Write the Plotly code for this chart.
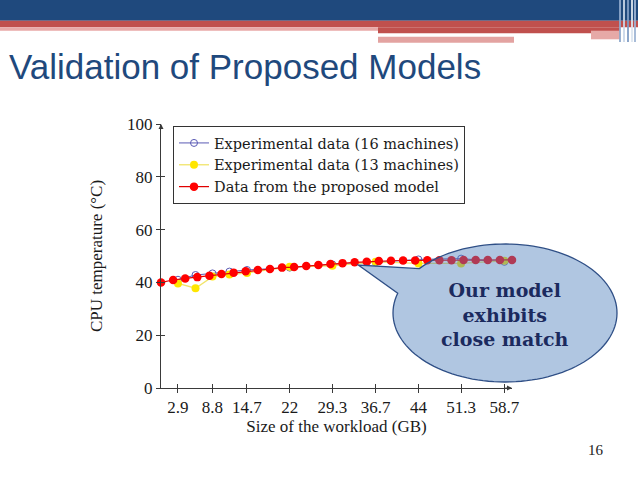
import math
import plotly.graph_objects as go

# ---------------- data ----------------
x_model = [0, 2.07, 4.14, 6.21, 8.28, 10.34, 12.41, 14.48, 16.55, 18.62,
           20.69, 22.76, 24.83, 26.9, 28.97, 31.03, 33.1, 35.17, 37.24, 39.31,
           41.38, 43.45, 45.52, 47.59, 49.66, 51.72, 53.79, 55.86, 57.93, 60.0]
y_model = [40.0, 40.9, 41.5, 42.0, 42.5, 43.2, 43.7, 44.2, 44.7, 45.1,
           45.6, 45.8, 46.2, 46.6, 47.0, 47.3, 47.6, 47.8, 48.1, 48.2,
           48.3, 48.3, 48.4, 48.4, 48.4, 48.5, 48.5, 48.5, 48.5, 48.5]
x_exp = [2.9, 5.9, 8.8, 11.7, 14.7, 22, 29.3, 36.7, 44, 51.3, 58.7]
y_exp16 = [41.0, 42.8, 43.4, 44.1, 44.7, 45.6, 46.8, 47.6, 48.7, 49.0, 47.8]
y_exp13 = [39.6, 37.8, 42.2, 43.0, 43.6, 45.9, 46.3, 47.8, 47.2, 47.2, 48.2]
x_tick_vals = [2.9, 8.8, 14.7, 22, 29.3, 36.7, 44, 51.3, 58.7]
x_tick_text = ["2.9", "8.8", "14.7", "22", "29.3", "36.7", "44", "51.3", "58.7"]
y_tick_vals = [0, 20, 40, 60, 80, 100]
y_tick_text = ["0", "20", "40", "60", "80", "100"]

# ---------------- layout geometry ----------------
W, H = 638, 478
L, R, T, B = 161, 126, 124, 90
PW, PH = W - L - R, H - T - B


def px(x):
    return (x - L) / PW


def py(y):
    return (H - B - y) / PH


SERIF = "Liberation Serif, Times New Roman, serif"
AX = "#3a3a3a"
TXT = "#1a1a1a"

fig = go.Figure()
fig.add_trace(go.Scatter(
    x=x_exp, y=y_exp16, mode="lines+markers",
    name="Experimental data (16 machines)",
    line=dict(color="#5a5ab4", width=1),
    marker=dict(symbol="circle-open", size=7, color="#5a5ab4", line=dict(width=1)),
    cliponaxis=False))
fig.add_trace(go.Scatter(
    x=x_exp, y=y_exp13, mode="lines+markers",
    name="Experimental data (13 machines)",
    line=dict(color="#f1e46a", width=1.3),
    marker=dict(symbol="circle", size=8, color="#ffe600", line=dict(width=0)),
    cliponaxis=False))
fig.add_trace(go.Scatter(
    x=x_model, y=y_model, mode="lines+markers",
    name="Data from the proposed model",
    line=dict(color="#e00000", width=1.2),
    marker=dict(symbol="circle", size=8.5, color="#ff0000", line=dict(width=0)),
    cliponaxis=False))
# empty trace to create the overlay axes carrying the inner tick marks
fig.add_trace(go.Scatter(x=[], y=[], xaxis="x2", yaxis="y2", showlegend=False,
                         hoverinfo="skip"))

axis_common = dict(showgrid=False, zeroline=False, fixedrange=True)
fig.update_layout(
    width=W, height=H,
    margin=dict(l=L, r=R, t=T, b=B),
    paper_bgcolor="white", plot_bgcolor="white",
    showlegend=True,
    legend=dict(x=px(173), y=py(126), xanchor="left", yanchor="top",
                bgcolor="white", bordercolor="#333333", borderwidth=1,
                font=dict(family="DejaVu Serif, serif", size=14.5, color=TXT),
                itemwidth=30, tracegroupgap=0),
    xaxis=dict(range=[0, 60], tickvals=x_tick_vals, ticktext=x_tick_text,
               ticks="outside", ticklen=4, tickcolor=AX, showline=True,
               linecolor=AX, linewidth=1,
               tickfont=dict(family=SERIF, size=17, color=TXT),
               title=dict(text="Size of the workload (GB)", standoff=0,
                          font=dict(family=SERIF, size=17, color=TXT)),
               **axis_common),
    yaxis=dict(range=[0, 100], tickvals=y_tick_vals, ticktext=y_tick_text,
               ticks="outside", ticklen=4, tickcolor=AX, showline=True,
               linecolor=AX, linewidth=1,
               tickfont=dict(family=SERIF, size=17, color=TXT),
               title=dict(text="CPU temperature (°C)", standoff=20,
                          font=dict(family=SERIF, size=17, color=TXT)),
               **axis_common),
    xaxis2=dict(overlaying="x", matches="x", anchor="y", range=[0, 60],
                tickvals=x_tick_vals, ticks="inside", ticklen=4, tickcolor=AX,
                showticklabels=False, showline=False, **axis_common),
    yaxis2=dict(overlaying="y", matches="y", anchor="x", range=[0, 100],
                tickvals=y_tick_vals, ticks="inside", ticklen=4, tickcolor=AX,
                showticklabels=False, showline=False, **axis_common),
)

shapes = []


def rect(x0, y0, x1, y1, color, opacity=1.0):
    shapes.append(dict(type="rect", xref="paper", yref="paper",
                       x0=px(x0), x1=px(x1), y0=py(y1), y1=py(y0),
                       fillcolor=color, line=dict(width=0), opacity=opacity,
                       layer="below"))


# slide header bands
rect(0, 0, 638, 20.7, "#1f497d")
rect(0, 20.7, 638, 27.3, "#c0504d")
rect(0, 27.3, 378, 30.7, "#e8a9a7")
rect(378, 27.3, 620, 33.3, "#c0504d")
rect(378, 36.7, 514, 42.7, "#e3a3a1")
rect(591, 30.7, 620, 39.3, "#e6a9a7")
for sx, col in [(619, "#8fa9cc"), (623, "#c9d6e8"), (627, "#7f9cc4"),
                (631, "#dde5f0"), (634, "#9fb5d4")]:
    rect(sx, 0, sx + 2, 42, col, 0.9)

# speech bubble (ellipse + tail), drawn on top of the data
cx, cy, rx, ry = 505, 313, 112, 69
b1 = (418, 268)
b2 = (396.7, 293)
tip = (358.3, 265)
t1 = math.atan2((b1[1] - cy) / ry, (b1[0] - cx) / rx)
t2 = math.atan2((b2[1] - cy) / ry, (b2[0] - cx) / rx) + 2 * math.pi
n = 120
pts = []
for i in range(n + 1):
    t = t1 + (t2 - t1) * i / n
    pts.append((cx + rx * math.cos(t), cy + ry * math.sin(t)))
pts.append(tip)
path = "M " + " L ".join(f"{px(a):.5f},{py(b):.5f}" for a, b in pts) + " Z"
shapes.append(dict(type="path", xref="paper", yref="paper", path=path,
                   fillcolor="rgba(79,129,189,0.45)",
                   line=dict(color="#2f4f86", width=1.3), layer="above"))
fig.update_layout(shapes=shapes)

annotations = [
    dict(text="Validation of Proposed Models", xref="paper", yref="paper",
         x=px(7), y=py(66), xanchor="left", yanchor="middle", showarrow=False,
         font=dict(family="Liberation Sans, Arial, sans-serif", size=35,
                   color="#1f497d")),
    dict(text="Our model<br>exhibits<br>close match", xref="paper", yref="paper",
         x=px(505), y=py(314), xanchor="center", yanchor="middle",
         showarrow=False, align="center",
         font=dict(family="DejaVu Serif, serif", size=19, color="#1b2a5e",
                   weight="bold")),
    dict(text="16", xref="paper", yref="paper", x=px(596), y=py(450),
         xanchor="center", yanchor="middle", showarrow=False,
         font=dict(family=SERIF, size=15, color="#222222")),
    # axis end arrows
    dict(x=60, y=0, ax=58.6, ay=0, xref="x", yref="y", axref="x", ayref="y",
         text="", showarrow=True, arrowhead=2, arrowsize=1, arrowwidth=1,
         arrowcolor=AX),
    dict(x=0, y=100, ax=0, ay=97.5, xref="x", yref="y", axref="x", ayref="y",
         text="", showarrow=True, arrowhead=2, arrowsize=1, arrowwidth=1,
         arrowcolor=AX),
]
fig.update_layout(annotations=annotations)

fig.write_html(
    "out.html",
    config={"displayModeBar": False},
    post_script="document.body.style.margin='0px';"
                "document.body.style.overflow='hidden';")
